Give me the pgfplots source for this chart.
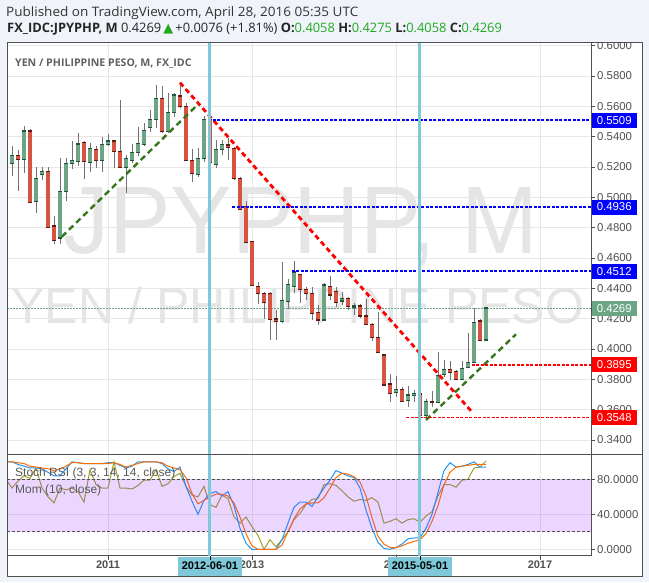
\documentclass[border=0pt]{standalone}
\usepackage{pgfplots}
\pgfplotsset{compat=1.18}
\usepackage{pgfplotstable}
\usepackage{graphicx}
\usepackage{fontspec}
\setmainfont{Liberation Sans}
\newfontfamily\osans{Open Sans}
\newfontfamily\djv{DejaVu Sans}

\definecolor{bgc}{RGB}{240,243,250}
\definecolor{gridc}{RGB}{230,230,230}
\definecolor{bordc}{RGB}{80,80,80}
\definecolor{labc}{RGB}{80,80,80}
\definecolor{upf}{RGB}{107,165,131}
\definecolor{upb}{RGB}{34,84,55}
\definecolor{dnf}{RGB}{215,84,66}
\definecolor{dnb}{RGB}{91,26,19}
\definecolor{wick}{RGB}{115,115,117}
\definecolor{cyanc}{RGB}{126,200,218}
\definecolor{trgreen}{RGB}{56,118,29}
\definecolor{kc}{RGB}{33,150,243}
\definecolor{dc}{RGB}{255,109,0}
\definecolor{momc}{RGB}{160,160,40}
\definecolor{bandc}{RGB}{153,51,255}
\definecolor{wm}{RGB}{229,229,229}
\definecolor{valg}{RGB}{30,170,30}
\definecolor{lvred}{RGB}{255,0,0}

% monthly candles, m = months from 2011-01
\pgfplotstableread{
m O H L C
-17 0.5033 0.5225 0.5020 0.5218
-16 0.5224 0.5338 0.5141 0.5277
-14 0.5250 0.5470 0.5158 0.5437
-12 0.4971 0.5202 0.4894 0.5125
-11 0.5152 0.5198 0.5114 0.5171
-8 0.4732 0.5259 0.4690 0.5040
-7 0.5040 0.5259 0.4976 0.5224
-6 0.5224 0.5371 0.5185 0.5244
-5 0.5237 0.5426 0.5207 0.5352
-3 0.5231 0.5356 0.5167 0.5323
-1 0.5244 0.5400 0.5165 0.5349
0 0.5349 0.5415 0.5338 0.5371
3 0.5198 0.5279 0.5026 0.5257
4 0.5244 0.5352 0.5229 0.5297
5 0.5297 0.5466 0.5270 0.5356
6 0.5349 0.5488 0.5336 0.5442
7 0.5462 0.5578 0.5433 0.5514
8 0.5514 0.5741 0.5455 0.5653
10 0.5433 0.5686 0.5422 0.5560
11 0.5560 0.5686 0.5532 0.5675
15 0.5149 0.5323 0.5136 0.5255
16 0.5255 0.5536 0.5235 0.5514
18 0.5218 0.5378 0.5196 0.5316
19 0.5316 0.5378 0.5279 0.5349
29 0.4182 0.4571 0.4174 0.4321
30 0.4314 0.4459 0.4261 0.4426
31 0.4411 0.4580 0.4367 0.4508
36 0.4191 0.4433 0.4186 0.4422
39 0.4317 0.4378 0.4290 0.4334
41 0.4275 0.4301 0.4224 0.4284
48 0.3714 0.3824 0.3686 0.3734
50 0.3659 0.3758 0.3620 0.3697
51 0.3695 0.3730 0.3653 0.3708
53 0.3563 0.3668 0.3548 0.3655
55 0.3648 0.3978 0.3642 0.3826
56 0.3831 0.3928 0.3818 0.3866
59 0.3800 0.3923 0.3796 0.3873
60 0.3877 0.4108 0.3873 0.3912
61 0.3912 0.4268 0.3905 0.4176
63 0.4058 0.4275 0.4058 0.4269
}\up

\pgfplotstableread{
m O H L C
-15 0.5277 0.5312 0.5044 0.5250
-13 0.5437 0.5451 0.4960 0.4967
-10 0.5171 0.5198 0.4795 0.4802
-9 0.4811 0.4879 0.4690 0.4716
-4 0.5363 0.5371 0.5123 0.5237
-2 0.5316 0.5338 0.5196 0.5244
1 0.5371 0.5378 0.5191 0.5303
2 0.5303 0.5642 0.5191 0.5198
9 0.5653 0.5734 0.5422 0.5433
12 0.5668 0.5756 0.5587 0.5598
13 0.5598 0.5620 0.5240 0.5244
14 0.5244 0.5319 0.5099 0.5156
17 0.5514 0.5576 0.5224 0.5231
20 0.5345 0.5389 0.5246 0.5327
21 0.5323 0.5334 0.5114 0.5125
22 0.5125 0.5132 0.4916 0.4921
23 0.4938 0.4976 0.4700 0.4703
24 0.4710 0.4714 0.4415 0.4420
25 0.4413 0.4444 0.4297 0.4367
26 0.4367 0.4374 0.4200 0.4305
27 0.4367 0.4374 0.4059 0.4196
28 0.4198 0.4257 0.4059 0.4182
32 0.4492 0.4494 0.4305 0.4393
33 0.4393 0.4411 0.4323 0.4367
34 0.4367 0.4411 0.4191 0.4235
35 0.4241 0.4290 0.4158 0.4191
37 0.4411 0.4481 0.4323 0.4356
38 0.4378 0.4411 0.4279 0.4308
40 0.4334 0.4345 0.4257 0.4279
42 0.4284 0.4297 0.4202 0.4218
43 0.4218 0.4327 0.4160 0.4163
44 0.4163 0.4169 0.4055 0.4077
45 0.4077 0.4246 0.3975 0.3978
46 0.3960 0.3965 0.3760 0.3763
47 0.3769 0.3835 0.3653 0.3708
49 0.3734 0.3752 0.3653 0.3655
52 0.3703 0.3730 0.3560 0.3563
54 0.3655 0.3723 0.3620 0.3646
57 0.3866 0.3923 0.3796 0.3846
58 0.3853 0.3862 0.3796 0.3800
62 0.4185 0.4198 0.4053 0.4057
}\dn

% Stoch RSI K, D and Momentum
\pgfplotstableread{
m K D Mom
-17 100 100 80
-16 100 100 70
-15 97 99 78
-14 95 98 84
-13 93 95 81
-12 93 94 93
-11 92 93 70
-10 88 92 60
-9 84 90 53
-8 84 92 70
-7 92 95 68
-6 100 99 70
-5 99 99 66
-4 98 98 54
-3 98 98 91
-2 98 98 74
-1 98 98 70
0 99 98 70
1 99 99 100
2 96 97 70
3 93 94 70
4 95 96 69
5 100 98 73
6 100 100 79
7 100 100 79
8 100 100 91
9 98 99 72
10 92 95 75
11 89 93 83
12 94 91 87
13 72 82 72
14 55 64 62
15 40 52 60
16 56 56 72
17 64 60 51
18 66 63 48
19 61 63 62
20 66 61 58
21 50 53 37
22 24 37 30
23 7 18 37
24 0 4 26
25 0 0 16
26 0 0 0
27 0 0 11
28 0 0 3
29 11 5 11
30 30 20 20
31 48 35 34
32 54 46 41
33 54 52 51
34 49 53 57
35 60 53 58
36 70 59 74
37 79 70 75
38 90 82 73
39 87 87 67
40 84 86 60
41 82 83 55
42 70 77 57
43 45 61 56
44 24 36 59
45 8 15 54
46 1 6 30
47 0 2 32
48 2 2 35
49 6 4 30
50 12 7 34
51 13 9 35
52 13 11 31
53 24 18 38
54 40 32 43
55 65 50 61
56 90 74 74
57 99 88 74
58 94 94 71
59 95 95 79
60 97 96 80
61 100 97 93
62 94 97 94
63 94 97 101
}\osc

\begin{document}
\begin{tikzpicture}[x=1pt,y=1pt]
\fill[bgc] (0,0) rectangle (649,582);
\useasboundingbox (0,0) rectangle (649,582);
\fill[white] (7,6) rectangle (642,539);

\begin{axis}[
  name=main,
  at={(7pt,127pt)}, anchor=south west,
  scale only axis, width=584pt, height=412pt,
  xmin=-16.83, xmax=80.5, ymin=0.33011, ymax=0.60176,
  clip mode=individual,
  axis line style={draw=bordc, line width=1pt},
  xtick={0,24,48,72}, xticklabels={}, xtick style={draw=none},
  ytick={0.34,0.36,0.38,0.40,0.42,0.44,0.46,0.48,0.50,0.52,0.54,0.56,0.58,0.60},
  yticklabels={0.3400,0.3600,0.3800,0.4000,0.4200,0.4400,0.4600,0.4800,0.5000,0.5200,0.5400,0.5600,0.5800,0.6000},
  ytick pos=right, yticklabel pos=right,
  tick align=outside, major tick length=4pt,
  ytick style={draw=bordc, line width=0.8pt},
  yticklabel style={font=\fontsize{11.4}{12}\selectfont, text=labc, anchor=west, inner sep=0pt, xshift=2pt},
  grid=major, grid style={draw=gridc, line width=0.7pt},
  candle/.style={draw=none, mark=none, error bars/.cd, y dir=plus, y explicit, error mark=none},
]
% watermark
\node[anchor=base, text=wm, inner sep=0] at (axis description cs:0.503,0.490)
  {\scalebox{0.96}[1]{\fontsize{96}{96}\selectfont JPYPHP, M}};
\node[anchor=base, text=wm, inner sep=0] at (axis description cs:0.498,0.320)
  {\fontsize{50}{50}\selectfont YEN / PHILIPPINE PESO};

% last close line
\addplot[draw=upf, line width=0.7pt, dash pattern=on 1.5pt off 1.5pt] coordinates {(-16.83,0.4269) (80.5,0.4269)};

% wicks
\addplot[candle, error bar style={draw=wick, solid, line width=0.9pt}]
  table[x=m, y=L, y error expr={\thisrow{H}-\thisrow{L}}] {\up};
\addplot[candle, error bar style={draw=wick, solid, line width=0.9pt}]
  table[x=m, y=L, y error expr={\thisrow{H}-\thisrow{L}}] {\dn};
% bodies
\addplot[candle, error bar style={draw=upb, solid, line width=4.8pt}]
  table[x=m, y expr={\thisrow{O}-0.0005}, y error expr={\thisrow{C}-\thisrow{O}+0.001}] {\up};
\addplot[candle, error bar style={draw=upf, solid, line width=3.2pt}]
  table[x=m, y expr={\thisrow{O}+0.0005}, y error expr={max(\thisrow{C}-\thisrow{O}-0.001,0)}] {\up};
\addplot[candle, error bar style={draw=dnb, solid, line width=4.8pt}]
  table[x=m, y expr={\thisrow{C}-0.0005}, y error expr={\thisrow{O}-\thisrow{C}+0.001}] {\dn};
\addplot[candle, error bar style={draw=dnf, solid, line width=3.2pt}]
  table[x=m, y expr={\thisrow{C}+0.0005}, y error expr={max(\thisrow{O}-\thisrow{C}-0.001,0)}] {\dn};

% trend lines
\addplot[draw=lvred, line width=2.8pt, dash pattern=on 5pt off 3.5pt] coordinates {(12,0.5756) (60.7,0.3583)};
\addplot[draw=trgreen, line width=2.4pt, dash pattern=on 6pt off 4pt] coordinates {(-7.7,0.4740) (15.05,0.5615)};
\addplot[draw=trgreen, line width=2.4pt, dash pattern=on 6pt off 4pt] coordinates {(53.0,0.3532) (68,0.4097)};

% horizontal levels
\addplot[draw=blue, line width=1.7pt, dash pattern=on 3pt off 1.5pt] coordinates {(17.5,0.5509) (80.5,0.5509)};
\addplot[draw=blue, line width=1.7pt, dash pattern=on 3pt off 1.5pt] coordinates {(20.75,0.4936) (80.5,0.4936)};
\addplot[draw=blue, line width=1.7pt, dash pattern=on 3pt off 1.5pt] coordinates {(30.6,0.4512) (80.5,0.4512)};
\addplot[draw=lvred, line width=1.8pt, dash pattern=on 3pt off 1.5pt] coordinates {(60.6,0.3895) (80.5,0.3895)};
\addplot[draw=lvred, line width=1.8pt, dash pattern=on 3pt off 1.5pt] coordinates {(49.7,0.3548) (80.5,0.3548)};

% date markers
\addplot[draw=cyanc, line width=3pt] coordinates {(17,0.33011) (17,0.60176)};
\addplot[draw=cyanc, line width=3pt] coordinates {(52,0.33011) (52,0.60176)};

\coordinate (p1) at (axis cs:80.5,0.5509);
\coordinate (p2) at (axis cs:80.5,0.4936);
\coordinate (p3) at (axis cs:80.5,0.4512);
\coordinate (p4) at (axis cs:80.5,0.4269);
\coordinate (p5) at (axis cs:80.5,0.3895);
\coordinate (p6) at (axis cs:80.5,0.3548);
\end{axis}

\begin{axis}[
  name=low,
  at={(7pt,26pt)}, anchor=south west,
  scale only axis, width=584pt, height=101pt,
  xmin=-16.83, xmax=80.5, ymin=-7.6, ymax=107.8,
  clip mode=individual,
  axis line style={draw=bordc, line width=1pt},
  xtick={0,24,48,72}, xticklabels={2011,2013,2015,2017},
  xtick pos=bottom,
  ytick={0,40,80}, yticklabels={0.0000,40.0000,80.0000},
  ytick pos=right, yticklabel pos=right,
  tick align=outside, major tick length=4pt,
  tick style={draw=bordc, line width=0.8pt},
  yticklabel style={font=\fontsize{11.4}{12}\selectfont, text=labc, anchor=west, inner sep=0pt, xshift=2pt},
  xticklabel style={font=\bfseries\fontsize{11}{12}\selectfont, text=labc, anchor=north, inner sep=0pt, yshift=-1pt},
  grid=major, grid style={draw=gridc, line width=0.7pt},
]
\addplot[draw=momc, line width=1pt] table[x=m, y=Mom] {\osc};
\addplot[draw=kc, line width=1pt] table[x=m, y=K] {\osc};
\addplot[draw=dc, line width=1pt] table[x=m, y=D] {\osc};
\addplot[draw=none, fill=bandc, fill opacity=0.2] coordinates {(-16.83,20) (80.5,20) (80.5,80) (-16.83,80)} -- cycle;
\addplot[draw=bordc, line width=0.8pt, dash pattern=on 3pt off 2pt] coordinates {(-16.83,80) (80.5,80)};
\addplot[draw=bordc, line width=0.8pt, dash pattern=on 3pt off 2pt] coordinates {(-16.83,20) (80.5,20)};
\addplot[draw=cyanc, line width=3pt] coordinates {(17,-7.6) (17,107.8)};
\addplot[draw=cyanc, line width=3pt] coordinates {(52,-7.6) (52,107.8)};
\coordinate (d1) at (axis cs:17,-7.6);
\coordinate (d2) at (axis cs:52,-7.6);
\end{axis}

% price labels
\tikzset{plab/.style={anchor=west, text=white, inner sep=0pt, minimum width=45pt, minimum height=15pt, font=\fontsize{11.4}{12}\selectfont}}
\node[plab, fill=blue] at ([xshift=0.5pt]p1) {0.5509};
\node[plab, fill=blue] at ([xshift=0.5pt]p2) {0.4936};
\node[plab, fill=blue] at ([xshift=0.5pt]p3) {0.4512};
\node[plab, fill=upf] at ([xshift=0.5pt]p4) {0.4269};
\node[plab, fill=lvred] at ([xshift=0.5pt]p5) {0.3895};
\node[plab, fill=lvred] at ([xshift=0.5pt]p6) {0.3548};

% date boxes
\tikzset{dlab/.style={anchor=north, fill=cyanc, text=black, inner sep=0pt, minimum width=64pt, minimum height=19pt, font=\bfseries\fontsize{11}{12}\selectfont}}
\node[dlab] at ([yshift=-0.5pt]d1) {2012-06-01};
\node[dlab] at ([yshift=-0.5pt]d2) {2015-05-01};
\draw[black, line width=0.8pt] (d1) -- ++(0,-3.5);
\draw[black, line width=0.8pt] (d2) -- ++(0,-3.5);

% frame
\draw[bordc, line width=1pt] (591,127) -- (642,127);
\draw[bordc, line width=1pt] (7,6) rectangle (642,539);

% cover above the frame
\fill[bgc] (0,539.5) rectangle (649,582);

% titles
\node[anchor=base west, inner sep=0, text=black!80, font=\osans\fontsize{13}{15}\selectfont] at (6,565)
  {\scalebox{1.04}[1]{Published on TradingView.com, April 28, 2016 05:35 UTC}};
\node[anchor=base west, inner sep=0, text=black!85, font=\osans\fontsize{13}{15}\selectfont] at (7,549)
  {\scalebox{0.99}[1]{\textbf{FX\_IDC:JPYPHP, M}\ 0.4269\,{\djv\textcolor{valg}{▲}}\,+0.0076 (+1.81\%)\ \textbf{O:}\textcolor{valg}{0.4058} \textbf{H:}\textcolor{valg}{0.4275} \textbf{L:}\textcolor{valg}{0.4058} \textbf{C:}\textcolor{valg}{0.4269}}};
\node[anchor=base west, inner sep=0, text=black!62, font=\osans\bfseries\fontsize{10.6}{12}\selectfont] at (15,515.5)
  {YEN / PHILIPPINE PESO, M, FX\_IDC};
\node[anchor=base west, inner sep=0, text=black!65, font=\fontsize{12}{14}\selectfont] at (15,105.3)
  {Stoch RSI (3, 3, 14, 14, close)};
\node[anchor=base west, inner sep=0, text=black!65, font=\fontsize{12}{14}\selectfont] at (15,88.3)
  {Mom (10, close)};
\end{tikzpicture}
\end{document}
